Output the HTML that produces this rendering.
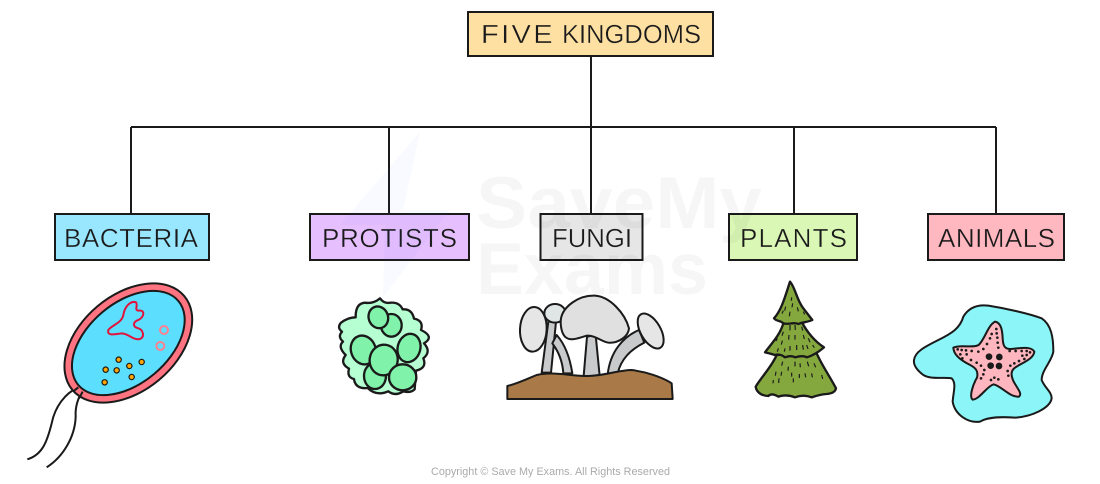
<!DOCTYPE html>
<html><head><meta charset="utf-8"><style>
html,body{margin:0;padding:0;background:#fff;width:1100px;height:484px;overflow:hidden}
svg{display:block}
text{font-family:"Liberation Sans",sans-serif}
.l{font-size:26px;fill:#1a1a1a;stroke-width:.35px}
</style></head><body>
<svg width="1100" height="484" viewBox="0 0 1100 484" xmlns="http://www.w3.org/2000/svg">
<rect width="1100" height="484" fill="#fff"/>
<!-- connectors -->
<g stroke="#1a1a1a" stroke-width="2" fill="none">
<path d="M591 56V127M131 127H996M131 127V214M389 127V214M591 127V214M794 127V214M996 127V214"/>
</g>
<!-- boxes -->
<g stroke="#1a1a1a" stroke-width="2">
<rect x="468" y="12" width="245" height="44" fill="#FFE0A3"/>
<rect x="55" y="214" width="154" height="46" fill="#99E6FF"/>
<rect x="310" y="214" width="159" height="46" fill="#E6BFFF"/>
<rect x="540.500" y="214" width="102" height="46" fill="#E6E6E6"/>
<rect x="729" y="214" width="128" height="46" fill="#DAF7B5"/>
<rect x="928" y="214" width="136" height="46" fill="#FFB8C0"/>
</g>
<!-- labels -->
<text class="l" stroke="#FFE0A3" transform="translate(481 43) scale(1.12 1)" x="0" y="0" textLength="64" lengthAdjust="spacing">FIVE</text>
<text class="l" stroke="#FFE0A3" x="562" y="43" textLength="139" lengthAdjust="spacingAndGlyphs">KINGDOMS</text>
<text class="l" stroke="#99E6FF" x="64" y="247" textLength="134" lengthAdjust="spacing">BACTERIA</text>
<text class="l" stroke="#E6BFFF" x="322" y="247" textLength="135" lengthAdjust="spacing">PROTISTS</text>
<text class="l" stroke="#E6E6E6" x="552" y="247" textLength="80" lengthAdjust="spacingAndGlyphs">FUNGI</text>
<text class="l" stroke="#DAF7B5" x="740" y="247" textLength="107" lengthAdjust="spacing">PLANTS</text>
<text class="l" stroke="#FFB8C0" x="938" y="247" textLength="117" lengthAdjust="spacing">ANIMALS</text>
<!-- bacteria -->
<g transform="translate(10,270) scale(.33333)" stroke="#1a1a1a" stroke-width="6" stroke-linejoin="round">
<path d="M205 352C165 370 135 410 125 460C110 520 95 555 52 568M218 365C205 380 195 410 197 440C195 500 160 560 110 592" fill="none"/>
<ellipse cx="355" cy="219" rx="219" ry="144" transform="rotate(-40 355 219)" fill="#FF7480"/>
<ellipse cx="355" cy="219" rx="196" ry="121" transform="rotate(-40 355 219)" fill="#5CDFFF"/>
<path d="M205 352L190 364M218 365L207 385" fill="none"/>
<path d="M295 180C305 165 335 160 340 135C345 105 365 92 378 97C385 105 372 120 385 122C405 118 405 140 385 150C370 155 365 170 385 175C400 180 405 200 390 207C370 212 355 190 335 190C315 192 290 200 295 180Z" fill="none" stroke="#E0143C"/>
<circle cx="462" cy="180" r="12" fill="none" stroke="#FF8090"/>
<circle cx="451" cy="228" r="12" fill="none" stroke="#FF8090"/>
<g fill="#FFA500" stroke-width="3.500">
<circle cx="326" cy="269" r="8"/><circle cx="395" cy="276" r="8"/><circle cx="358" cy="288" r="8"/><circle cx="287" cy="299" r="8"/><circle cx="320" cy="301" r="8"/><circle cx="365" cy="321" r="8"/><circle cx="284" cy="337" r="8"/>
</g>
</g>
<!-- protist -->
<g transform="translate(320,280) scale(.33333)" stroke="#1a1a1a" stroke-width="7" stroke-linejoin="round">
<path d="M180 55Q192 72 212 68Q238 66 248 88Q276 86 282 116Q312 122 303 150Q345 170 312 190Q335 215 310 235Q322 264 288 272L284 328Q272 340 250 334Q225 350 205 334Q170 350 143 324Q106 328 102 297Q80 292 87 266Q58 250 77 225Q52 200 69 185Q52 170 66 155Q50 143 63 128Q85 112 107 112Q106 70 135 68Q160 72 180 55Z" fill="#B5FFD2"/>
<g fill="#80F2AA">
<ellipse cx="214" cy="136" rx="31" ry="34"/>
<ellipse cx="175" cy="112" rx="29" ry="33" transform="rotate(-20 175 112)"/>
<ellipse cx="130" cy="210" rx="37" ry="44" transform="rotate(-20 130 210)"/>
<ellipse cx="165" cy="288" rx="33" ry="39"/>
<ellipse cx="267" cy="204" rx="34" ry="43" transform="rotate(15 267 204)"/>
<ellipse cx="191" cy="240" rx="42" ry="46" transform="rotate(10 191 240)"/>
<ellipse cx="248" cy="292" rx="41" ry="39"/>
</g>
</g>
<!-- fungi -->
<g transform="translate(495,280) scale(.33333)" stroke="#1a1a1a" stroke-width="6" stroke-linejoin="round">
<g fill="#C8CACC">
<path d="M160 125L140 278L168 278L183 125Z"/>
<path d="M172 190C195 220 203 250 205 280L232 280C225 235 212 195 185 165Z"/>
<path d="M276 170L266 288L314 288L302 165Z"/>
<path d="M432 150C385 170 345 215 338 284L368 280C378 238 405 210 448 188Z"/>
</g>
<ellipse cx="180" cy="100" rx="32" ry="28" fill="#E0E6E6"/>
<ellipse cx="115" cy="148" rx="40" ry="67" transform="rotate(3 115 148)" fill="#E6E6E6"/>
<path d="M198 115C205 80 250 45 300 47C345 50 390 100 402 145C400 170 370 190 340 188C320 185 300 165 275 167C250 175 225 185 210 170C200 160 195 135 198 115Z" fill="#E0E0E0"/>
<ellipse cx="467" cy="153" rx="30" ry="58" transform="rotate(-30 467 153)" fill="#E6E6E6"/>
<path d="M37 318C70 310 100 295 125 285C170 275 210 285 270 288C320 290 370 270 410 270C450 275 500 290 530 310L533 357L37 357Z" fill="#A97A48"/>
</g>
<!-- tree -->
<g transform="translate(740,270) scale(.33333)" stroke="#1a1a1a" stroke-width="7" stroke-linejoin="round" fill="#84A83E">
<path d="M110 255C95 290 65 320 47 350C50 370 70 378 85 378Q95 368 115 380Q140 372 165 382Q190 372 215 382Q245 372 260 372Q285 370 288 355C270 320 245 285 230 250Z"/>
<path d="M130 160C120 195 95 220 75 247Q90 250 105 255Q120 250 135 262Q155 255 165 262Q190 255 200 262Q225 255 252 232C225 215 200 185 185 155Z"/>
<path d="M150 35C165 50 170 90 190 115L217 150C200 158 190 155 175 162C160 155 145 165 130 160C120 150 110 155 102 145C125 120 135 80 150 35Z"/>
<path fill="none" stroke-width="3.500" d="M155 82l-1 10M158 100l-2 12M137 110l-3 12M172 112l3 12M150 125l-2 14M130 122l-4 9M190 125l4 8M150 165l0 16M165 165l1 15M130 185l-4 12M185 170l3 12M112 205l-4 8M127 212l-3 12M147 195l-1 14M165 195l0 14M190 195l3 12M205 205l5 12M218 225l5 8M115 235l-3 10M135 235l-2 10M150 228l0 14M170 225l0 15M188 225l2 14M200 225l4 12M128 275l-3 12M145 290l-1 12M165 275l0 14M180 280l1 12M202 275l4 14M222 280l5 12M108 305l-2 12M125 305l-2 12M155 308l0 12M178 312l0 12M195 310l2 12M215 310l2 12M245 315l3 12M117 325l-1 14M160 325l0 12M100 330l-1 10"/>
</g>
<!-- starfish -->
<g transform="translate(905,295) scale(.33333)" stroke="#1a1a1a" stroke-width="6" stroke-linejoin="round">
<path d="M27 195C30 170 60 155 100 135C140 115 165 100 175 65C190 40 215 28 250 32C300 40 370 55 410 70C440 90 445 130 445 170C440 200 410 225 410 255C420 280 440 290 440 310C435 340 380 365 330 368C290 365 250 365 225 380C190 385 150 360 143 320C145 290 155 265 140 250C115 245 80 255 55 240C35 225 25 210 27 195Z" fill="#8CF5F7"/>
<path d="M270 80C288 83 292 105 293 130C294 150 298 162 314 162C345 160 378 152 388 170C386 192 352 203 330 218C316 228 318 242 326 260C340 285 352 296 342 305C315 308 288 272 266 268C245 274 225 312 203 314C192 306 203 270 216 248C221 228 212 218 192 208C172 198 146 182 145 158C165 148 203 160 221 150C240 132 248 92 270 80Z" fill="#FFB6BE"/>
<g fill="#1a1a1a" stroke="none">
<circle cx="252" cy="185" r="10"/><circle cx="283" cy="186" r="10"/><circle cx="257" cy="212" r="10"/><circle cx="282" cy="213" r="10"/>
<circle cx="274" cy="102" r="4"/><circle cx="275" cy="115" r="4"/><circle cx="260" cy="117" r="4"/><circle cx="277" cy="128" r="4"/><circle cx="255" cy="130" r="4"/><circle cx="278" cy="143" r="4"/><circle cx="246" cy="147" r="4"/><circle cx="280" cy="158" r="4"/><circle cx="235" cy="162" r="4"/>
<circle cx="158" cy="163" r="4"/><circle cx="170" cy="165" r="4"/><circle cx="183" cy="166" r="4"/><circle cx="166" cy="178" r="4"/><circle cx="185" cy="178" r="4"/><circle cx="172" cy="190" r="4"/><circle cx="200" cy="168" r="4"/><circle cx="220" cy="170" r="4"/><circle cx="198" cy="195" r="4"/><circle cx="215" cy="203" r="4"/><circle cx="228" cy="212" r="4"/>
<circle cx="314" cy="168" r="4"/><circle cx="332" cy="168" r="4"/><circle cx="350" cy="168" r="4"/><circle cx="365" cy="168" r="4"/><circle cx="375" cy="172" r="4"/><circle cx="365" cy="180" r="4"/><circle cx="352" cy="182" r="4"/><circle cx="358" cy="192" r="4"/><circle cx="342" cy="198" r="4"/><circle cx="328" cy="205" r="4"/><circle cx="316" cy="212" r="4"/><circle cx="308" cy="228" r="4"/><circle cx="310" cy="242" r="4"/>
<circle cx="238" cy="225" r="4"/><circle cx="235" cy="238" r="4"/><circle cx="228" cy="250" r="4"/><circle cx="258" cy="255" r="4"/><circle cx="268" cy="248" r="4"/><circle cx="280" cy="253" r="4"/>
</g>
</g>
<!-- watermark -->
<polygon points="420,132 340,225 385,225 383,297 450,210 403,210" fill="#4080ff" opacity=".04"/>
<g fill="#000" opacity=".03" font-weight="700">
<text x="476" y="228" font-size="73" textLength="286" lengthAdjust="spacingAndGlyphs">SaveMy</text>
<text x="476" y="294" font-size="73" textLength="232" lengthAdjust="spacingAndGlyphs">Exams</text>
</g>
<text x="431" y="475" font-size="11" fill="#aaaaaa" textLength="239" lengthAdjust="spacingAndGlyphs">Copyright © Save My Exams. All Rights Reserved</text>
</svg>
</body></html>
